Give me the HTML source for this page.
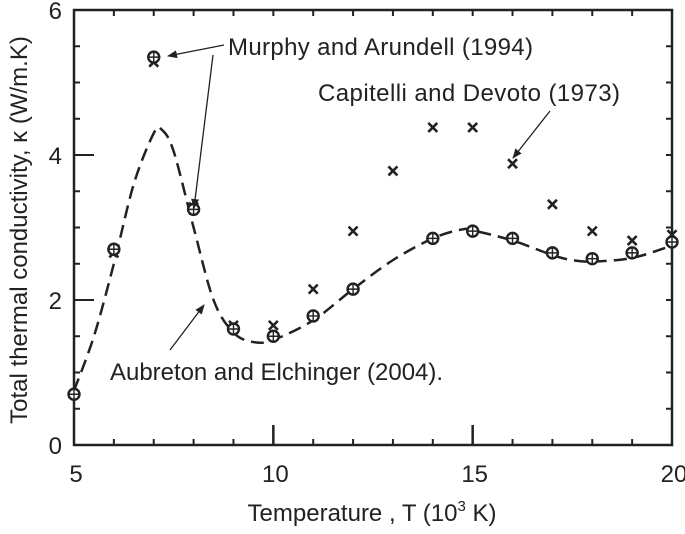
<!DOCTYPE html>
<html><head><meta charset="utf-8"><style>
body{margin:0;background:#fff}
svg text{font-family:"Liberation Sans",Arial,sans-serif;fill:#222}
</style></head><body>
<svg id="chart" width="685" height="529" viewBox="0 0 685 529" xmlns="http://www.w3.org/2000/svg">
<defs><marker id="ah" markerWidth="10" markerHeight="8" refX="9" refY="4" orient="auto" markerUnits="userSpaceOnUse"><path d="M0,0 L10,4 L0,8 z" fill="#222"/></marker></defs>
<g id="axes"></g>
<g id="curve"></g>
<g id="marks"></g>
<text x="228" y="55" font-size="24" textLength="305">Murphy and Arundell (1994)</text>
<text x="318" y="101" font-size="24" textLength="302">Capitelli and Devoto (1973)</text>
<text x="110" y="380" font-size="24" textLength="333">Aubreton and Elchinger (2004).</text>
<line x1="224" y1="45" x2="168" y2="56" stroke="#222" stroke-width="1.3" marker-end="url(#ah)"/>
<line x1="213" y1="55" x2="194" y2="208" stroke="#222" stroke-width="1.3" marker-end="url(#ah)"/>
<line x1="550" y1="111" x2="513" y2="158" stroke="#222" stroke-width="1.3" marker-end="url(#ah)"/>
<line x1="170" y1="350" x2="204" y2="305" stroke="#222" stroke-width="1.3" marker-end="url(#ah)"/>
<text transform="translate(27,230) rotate(-90)" text-anchor="middle" font-size="24">Total thermal conductivity, κ (W/m.K)</text>
<text x="372" y="521" text-anchor="middle" font-size="24">Temperature , T (10<tspan font-size="15" dy="-10">3</tspan><tspan dy="10"> K)</tspan></text>
</svg>
<script>
const murphyT=[5,6,7,8,9,10,11,12,14,15,16,17,18,19,20];
const murphyK=[0.7,2.7,5.35,3.25,1.6,1.5,1.78,2.15,2.85,2.95,2.85,2.65,2.57,2.65,2.8];
const capT=[6,7,8,9,10,11,12,13,14,15,16,17,18,19,20];
const capK=[2.65,5.28,3.28,1.65,1.65,2.15,2.95,3.78,4.38,4.38,3.88,3.32,2.95,2.82,2.9];
const curveT=[5,5.5,6,6.5,7,7.2,7.5,8,8.5,9,9.5,10,11,12,13,14,14.7,15,16,17,17.5,18,19,20];
const curveK=[0.75,1.5,2.5,3.6,4.3,4.35,4.05,3.0,2.0,1.55,1.42,1.45,1.72,2.15,2.55,2.85,2.97,2.96,2.82,2.62,2.55,2.53,2.58,2.75];
const xTicks=[5,10,15,20];
const yTicks=[0,2,4,6];
const X0=74,X1=672,Y0=445,Y1=10;
const sx=t=>X0+(t-5)/15*(X1-X0);
const sy=k=>Y0-k/6*(Y0-Y1);
const NS="http://www.w3.org/2000/svg";
function mk(tag,attrs,parent){const e=document.createElementNS(NS,tag);for(const k in attrs)e.setAttribute(k,attrs[k]);parent.appendChild(e);return e;}
const ax=document.getElementById('axes');
const frame=mk('rect',{x:X0,y:Y1,width:X1-X0,height:Y0-Y1,fill:'none',stroke:'#222','stroke-width':2.5},ax);


for(let t=6;t<20;t++){
  const major=(t%5===0);
  const b=mk('line',{x1:sx(t),x2:sx(t),y1:Y0,y2:Y0-(major?20:6),stroke:'#222','stroke-width':major?2.5:2},ax);
  
  
  const tp=mk('line',{x1:sx(t),x2:sx(t),y1:Y1,y2:Y1+6,stroke:'#222','stroke-width':2},ax);
  
  
}
for(let k=0.5;k<6;k+=0.5){
  const major=(k%2===0);
  const l=mk('line',{x1:X0,x2:X0+(major?20:6),y1:sy(k),y2:sy(k),stroke:'#222','stroke-width':2},ax);
  
  
  const r=mk('line',{x1:X1,x2:X1-6,y1:sy(k),y2:sy(k),stroke:'#222','stroke-width':2},ax);
  
  
}
xTicks.forEach(t=>{const e=mk('text',{x:sx(t)+2,y:482,'text-anchor':'middle','font-size':24},ax);e.textContent=t;
  
  });
yTicks.forEach(k=>{const e=mk('text',{x:X0-12,y:sy(k)+9,'text-anchor':'end','font-size':24},ax);e.textContent=k;
  
  });
const pts=curveT.map((t,i)=>[sx(t),sy(curveK[i])]);
let d='M'+pts[0][0]+','+pts[0][1];
for(let i=0;i<pts.length-1;i++){
  const p0=pts[Math.max(0,i-1)],p1=pts[i],p2=pts[i+1],p3=pts[Math.min(pts.length-1,i+2)];
  d+=' C'+(p1[0]+(p2[0]-p0[0])/6)+','+(p1[1]+(p2[1]-p0[1])/6)+' '+(p2[0]-(p3[0]-p1[0])/6)+','+(p2[1]-(p3[1]-p1[1])/6)+' '+p2[0]+','+p2[1];
}
const cp=mk('path',{d:d,fill:'none',stroke:'#222','stroke-width':2.5,'stroke-dasharray':'13,7'},document.getElementById('curve'));


const mg=document.getElementById('marks');
capT.forEach((t,i)=>{const x=sx(t),y=sy(capK[i]);
  const p=mk('path',{d:`M${x-4.5},${y-4.5}L${x+4.5},${y+4.5}M${x-4.5},${y+4.5}L${x+4.5},${y-4.5}`,stroke:'#222','stroke-width':2.6},mg);
  
  });
murphyT.forEach((t,i)=>{const x=sx(t),y=sy(murphyK[i]);
  const g=mk('g',{},mg);
  
  
  mk('circle',{cx:x,cy:y,r:5.5,fill:'#fff',stroke:'#222','stroke-width':2.4},g);
  mk('path',{d:`M${x-5},${y}L${x+5},${y}M${x},${y-5}L${x},${y+5}`,stroke:'#222','stroke-width':1.4},g);});
</script>
</body></html>
